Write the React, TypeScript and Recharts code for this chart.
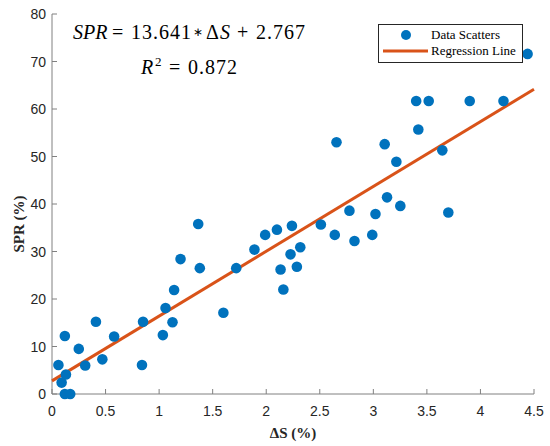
import { Label, Legend, Scatter, ScatterChart, XAxis, YAxis } from 'recharts';

/* MATLAB default palette */
const BLUE = '#0072BD';
const ORANGE = '#D95319';
const AXIS_GRAY = '#808080';
const TEXT_DARK = '#262626';

const DELTA_S = [
  0.06, 0.09, 0.12, 0.13, 0.12, 0.17, 0.25, 0.31, 0.41, 0.47,
  0.58, 0.84, 0.85, 1.035, 1.06, 1.125, 1.14, 1.2, 1.365, 1.38,
  1.6, 1.72, 1.89, 1.99, 2.1, 2.24, 2.134, 2.16, 2.227, 2.286,
  2.318, 2.51, 2.64, 2.656, 2.777, 2.824, 2.99, 3.02, 3.4, 3.517,
  3.9, 4.215, 3.42, 3.106, 3.644, 3.215, 3.128, 3.252, 3.7, 4.44,
];
const SPR = [
  6.1, 2.4, 12.2, 4.1, 0, 0, 9.5, 6, 15.2, 7.3,
  12.1, 6.1, 15.2, 12.4, 18.1, 15.1, 21.9, 28.4, 35.8, 26.5,
  17.1, 26.5, 30.4, 33.5, 34.6, 35.4, 26.2, 22.0, 29.4, 26.8,
  30.9, 35.7, 33.5, 53.0, 38.6, 32.2, 33.5, 37.9, 61.7, 61.7,
  61.7, 61.7, 55.7, 52.6, 51.3, 48.9, 41.4, 39.6, 38.2, 71.6,
];

// fitted line from the equation shown on the chart
const SLOPE = 13.641;
const INTERCEPT = 2.767;
const R_SQUARED = 0.872;
const FIT_X = [0, 4.5];

const X_TICKS = [0, 0.5, 1, 1.5, 2, 2.5, 3, 3.5, 4, 4.5];
const Y_TICKS = [0, 10, 20, 30, 40, 50, 60, 70, 80];

const points = DELTA_S.map((x, i) => ({ x, y: SPR[i] }));
const fitLine = FIT_X.map((x) => ({ x, y: SLOPE * x + INTERCEPT }));

const SANS = "'Liberation Sans', Arial, sans-serif";
const SERIF = "'Liberation Serif', 'Times New Roman', serif";

function XTick({ x, y, payload }: any) {
  return (
    <g>
      <line x1={x} y1={y} x2={x} y2={y - 5} stroke={AXIS_GRAY} strokeWidth={1} />
      <text x={x} y={y + 22} textAnchor="middle" fontSize={14} fill={TEXT_DARK} fontFamily={SANS}>
        {payload.value}
      </text>
    </g>
  );
}

function YTick({ x, y, payload }: any) {
  return (
    <g>
      <line x1={x} y1={y} x2={x + 5} y2={y} stroke={AXIS_GRAY} strokeWidth={1} />
      <text x={x - 6} y={y + 5} textAnchor="end" fontSize={14} fill={TEXT_DARK} fontFamily={SANS}>
        {payload.value}
      </text>
    </g>
  );
}

function LegendBox() {
  return (
    <div
      style={{
        border: '1px solid #262626',
        background: '#fff',
        width: 143,
        height: 35,
        fontFamily: SERIF,
        fontSize: 13,
        color: '#000',
        lineHeight: '16px',
        paddingTop: 2,
        boxSizing: 'content-box',
      }}
    >
      <div style={{ display: 'flex', alignItems: 'center', height: 16 }}>
        <svg width={52} height={16}>
          <circle cx={27} cy={8} r={5} fill={BLUE} />
        </svg>
        <span>Data Scatters</span>
      </div>
      <div style={{ display: 'flex', alignItems: 'center', height: 16 }}>
        <svg width={52} height={16}>
          <line x1={4} y1={8} x2={49} y2={8} stroke={ORANGE} strokeWidth={3} />
        </svg>
        <span>Regression Line</span>
      </div>
    </div>
  );
}

const dot = (props: any) => <circle cx={props.cx} cy={props.cy} r={5.3} fill={BLUE} />;

// equation annotation, laid out token by token like the math font in the original
function Equation() {
  const t = { fontFamily: SERIF, fontSize: 20, fill: '#000' } as const;
  return (
    <svg width={550} height={100} style={{ position: 'absolute', left: 0, top: 0, pointerEvents: 'none' }}>
      <text x={73} y={39} {...t} fontStyle="italic">SPR</text>
      <text x={112} y={39} {...t}>=</text>
      <text x={131} y={39} {...t} letterSpacing={1}>{SLOPE.toFixed(3)}</text>
      <text x={198} y={36} {...t} fontSize={12} textAnchor="middle">∗</text>
      <text x={206} y={39} {...t}>Δ</text>
      <text x={220} y={39} {...t} fontStyle="italic">S</text>
      <text x={237} y={39} {...t}>+</text>
      <text x={256} y={39} {...t} letterSpacing={1}>{INTERCEPT.toFixed(3)}</text>
      <text x={141} y={74} {...t} fontStyle="italic">R</text>
      <text x={155} y={66} {...t} fontSize={13}>2</text>
      <text x={169} y={74} {...t}>=</text>
      <text x={188} y={74} {...t} letterSpacing={1}>{R_SQUARED.toFixed(3)}</text>
    </svg>
  );
}

export default function App() {
  return (
    <div style={{ position: 'relative', width: 550, height: 446, background: '#fff' }}>
      <style>{'body{margin:0}'}</style>
      <ScatterChart width={550} height={446} margin={{ top: 14, right: 16, left: 12, bottom: 0 }}>
        <XAxis
          type="number"
          dataKey="x"
          domain={[0, 4.5]}
          ticks={X_TICKS}
          height={52}
          tickSize={0}
          tickMargin={0}
          tickLine={false}
          stroke={AXIS_GRAY}
          tick={<XTick />}
          interval={0}
        >
          <Label
            content={({ viewBox }: any) => (
              <text x={viewBox.x + viewBox.width / 2} y={viewBox.y + 44} textAnchor="middle"
                fontSize={15} fontWeight="bold" fill={TEXT_DARK} fontFamily={SERIF}>
                ΔS (%)
              </text>
            )}
          />
        </XAxis>
        <YAxis
          type="number"
          dataKey="y"
          domain={[0, 80]}
          ticks={Y_TICKS}
          width={40}
          tickSize={0}
          tickMargin={0}
          tickLine={false}
          stroke={AXIS_GRAY}
          tick={<YTick />}
          interval={0}
        >
          <Label
            content={({ viewBox }: any) => {
              const cx = viewBox.x + 7;
              const cy = viewBox.y + viewBox.height / 2 + 20;
              return (
                <text x={cx} y={cy} transform={`rotate(-90 ${cx} ${cy})`} textAnchor="middle"
                  dominantBaseline="central" fontSize={15} fontWeight="bold" fill={TEXT_DARK}
                  fontFamily={SERIF}>
                  SPR (%)
                </text>
              );
            }}
          />
        </YAxis>
        <Scatter
          name="Regression Line"
          data={fitLine}
          line={{ stroke: ORANGE, strokeWidth: 3 }}
          lineType="joint"
          shape={() => <g />}
          isAnimationActive={false}
        />
        <Scatter name="Data Scatters" data={points} shape={dot} isAnimationActive={false} />
        <Legend
          layout="vertical"
          align="center"
          verticalAlign="middle"
          content={<LegendBox />}
          wrapperStyle={{ position: 'absolute', top: 24, left: 378, width: 145 }}
        />
      </ScatterChart>
      <Equation />
    </div>
  );
}
